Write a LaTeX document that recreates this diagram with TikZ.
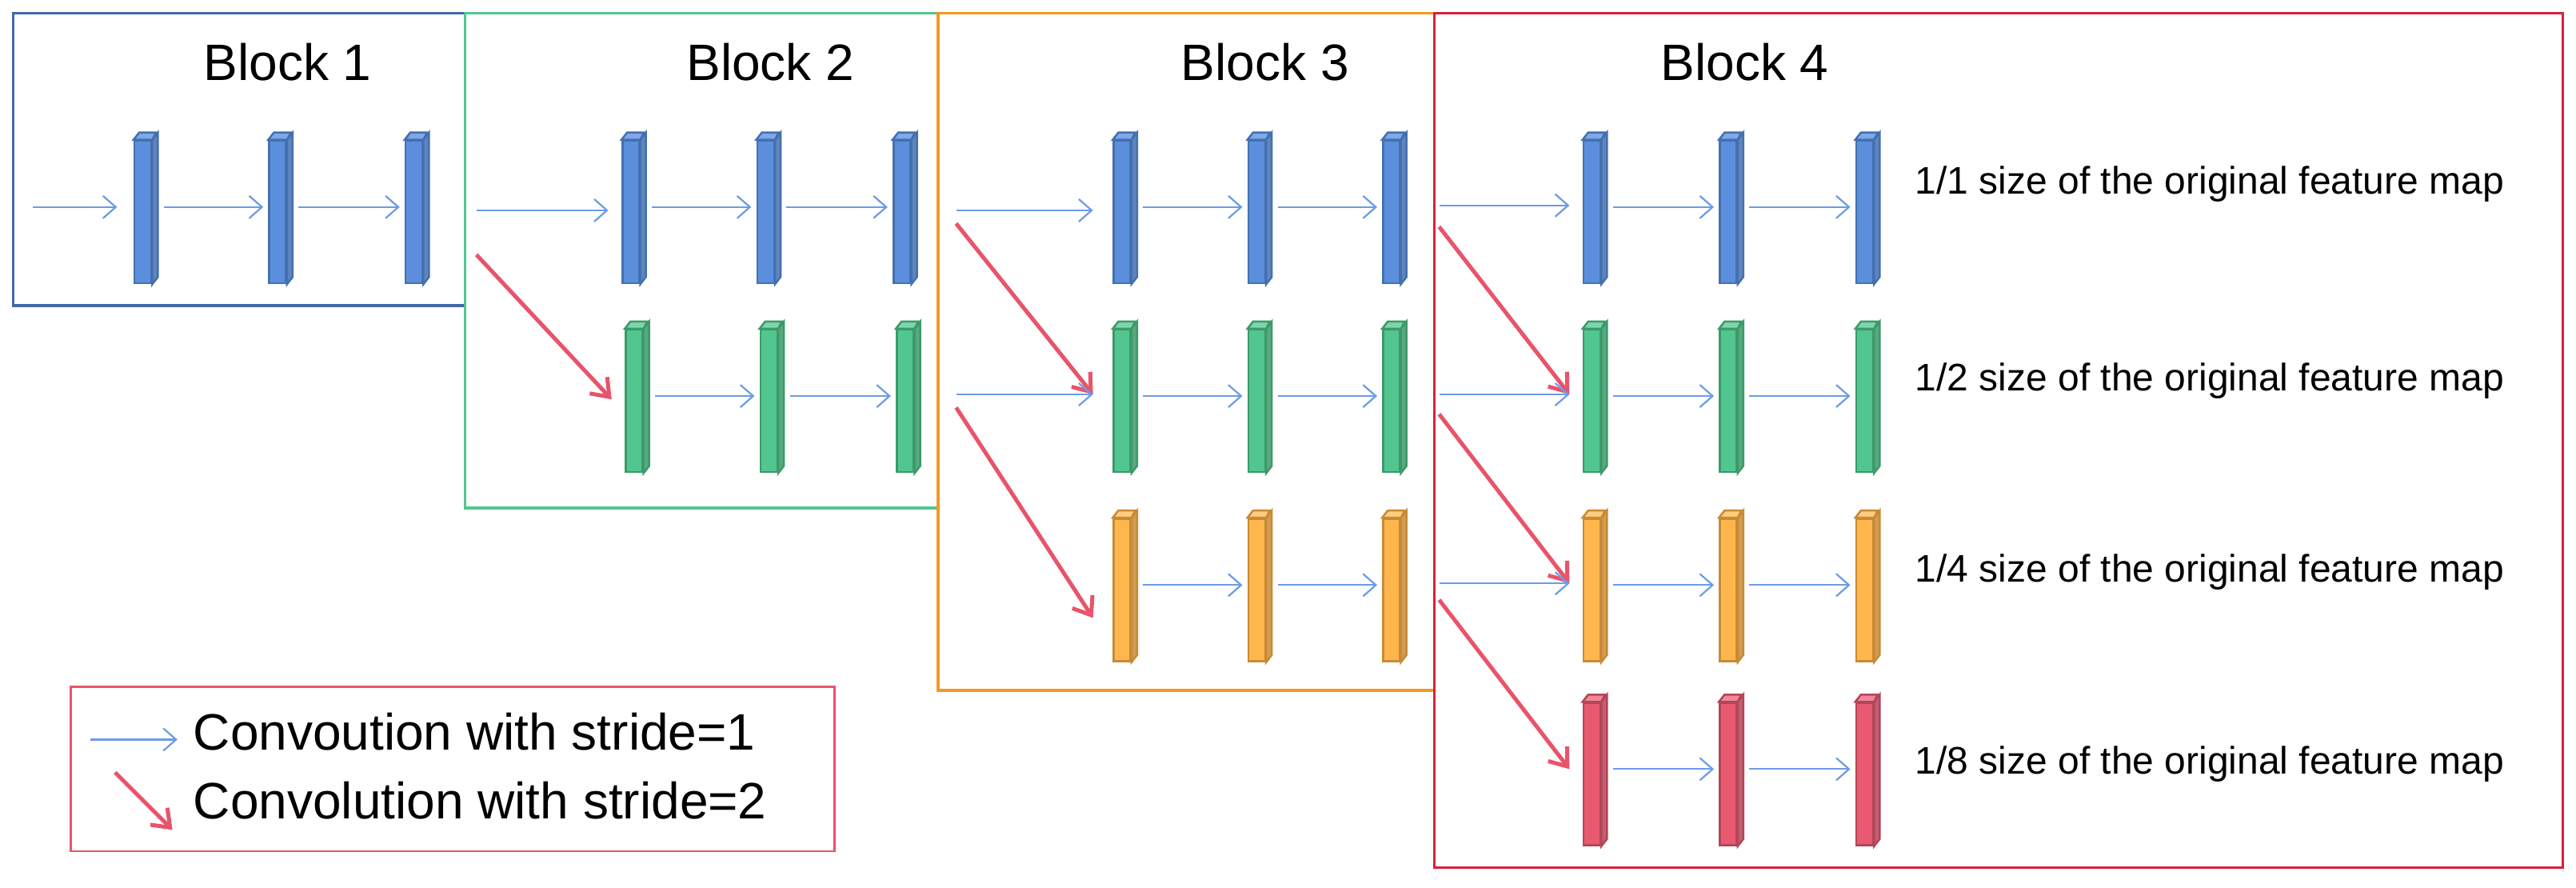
\documentclass[tikz,border=0pt]{standalone}
\usepackage{fontspec}
\setmainfont{Liberation Sans}
\usetikzlibrary{arrows.meta,calc}
\definecolor{bF}{HTML}{5B8FDE}\definecolor{bE}{HTML}{4470B0}\definecolor{bT}{HTML}{7FA8E8}
\definecolor{gF}{HTML}{52C68F}\definecolor{gE}{HTML}{3C9A6A}\definecolor{gT}{HTML}{7DD6AB}
\definecolor{oF}{HTML}{FFB74D}\definecolor{oE}{HTML}{C98A35}\definecolor{oT}{HTML}{FFCD80}
\definecolor{rF}{HTML}{E95A70}\definecolor{rE}{HTML}{B44558}\definecolor{rT}{HTML}{F0889A}
\definecolor{arB}{HTML}{6C9BE8}\definecolor{arR}{HTML}{E8546A}
\definecolor{box1}{HTML}{4268A8}\definecolor{box2}{HTML}{52C68F}\definecolor{box3}{HTML}{F39A1E}\definecolor{box4}{HTML}{DC1E3C}
\newcommand{\fbar}[4]{%
 \node[draw=#4E,fill=#4F,line width=2.5pt,minimum width=21pt,minimum height=178pt,inner sep=0pt] (#1) at (#2,#3) {};
 \fill[#4T,draw=#4E,line width=2.5pt] (#1.north west) -- ++(7pt,9pt) -- ++(21pt,0) -- (#1.north east) -- cycle;
 \fill[#4E!85,draw=#4E,line width=2.5pt] (#1.north east) -- ++(7pt,9pt) -- ($(#1.south east)+(7pt,9pt)$) -- (#1.south east) -- cycle;
}
\tikzset{
 ba/.style={draw=arB,line width=2.2pt,-{Straight Barb[length=16pt,width=28pt,line width=2.2pt]}},
 ra/.style={draw=arR,line width=5pt,-{Straight Barb[length=20pt,width=30pt,line width=5pt]}},
 blk/.style={line width=3.5pt},
 ttl/.style={font=\fontsize{64}{72}\selectfont},
 lbl/.style={font=\fontsize{48}{56}\selectfont,anchor=west},
 leg/.style={font=\fontsize{64}{72}\selectfont,anchor=west}
}
\begin{document}
\begin{tikzpicture}[x=2.054pt,y=-2.054pt]
\useasboundingbox (0,0) rectangle (1568,540);
\fill[white] (0,0) rectangle (1568,540);
% boxes
\draw[blk,box1] (8,8) rectangle (283,186);
\draw[blk,box2] (283,8) rectangle (571,309);
\draw[blk,box3] (571,8) rectangle (873,420);
\draw[blk,box4] (873,8) rectangle (1560,528);
\node[ttl] (t1) at (175,38) {Block 1};
\node[ttl] (t2) at (469,38) {Block 2};
\node[ttl] (t3) at (770,38) {Block 3};
\node[ttl] (t4) at (1062,38) {Block 4};
% bars
\def\ya{129}\def\yb{244}\def\yc{359}\def\yd{471}
\foreach \n/\x in {11/87,12/169,13/252}{\fbar{b\n}{\x}{\ya}{b}}
\foreach \n/\x in {21/384,22/466,23/549}{\fbar{b\n}{\x}{\ya}{b}}
\foreach \n/\x in {24/386,25/468,26/551}{\fbar{b\n}{\x}{\yb}{g}}
\foreach \n/\x in {31/683,32/765,33/847}{\fbar{b\n}{\x}{\ya}{b}}
\foreach \n/\x in {34/683,35/765,36/847}{\fbar{b\n}{\x}{\yb}{g}}
\foreach \n/\x in {37/683,38/765,39/847}{\fbar{b\n}{\x}{\yc}{o}}
\foreach \n/\x in {41/969,42/1052,43/1135}{\fbar{b\n}{\x}{\ya}{b}}
\foreach \n/\x in {44/969,45/1052,46/1135}{\fbar{b\n}{\x}{\yb}{g}}
\foreach \n/\x in {47/969,48/1052,49/1135}{\fbar{b\n}{\x}{\yc}{o}}
\foreach \n/\x in {50/969,51/1052,52/1135}{\fbar{b\n}{\x}{\yd}{r}}
% horizontal arrows between bars
\foreach \a/\b in {11/12,12/13,21/22,22/23,24/25,25/26,31/32,32/33,34/35,35/36,37/38,38/39,41/42,42/43,44/45,45/46,47/48,48/49,50/51,51/52}
 {\draw[ba] ($(b\a.east)+(7,-3)$) -- ($(b\b.west)+(-3,-3)$);}
% inputs
\coordinate (i1) at (20,126);
\draw[ba] (i1) -- ($(b11.west)+(-10,-3)$);
\coordinate (i2) at (290,128); \coordinate (i2r) at (290,155);
\draw[ba] (i2) -- ($(b21.west)+(-8,-1)$);
\draw[ra] (i2r) -- ($(b24.west)+(-8,-1)$);
\coordinate (i3a) at (582,128); \coordinate (i3ar) at (582,136);
\coordinate (i3b) at (582,240); \coordinate (i3br) at (582,248);
\draw[ba] (i3a) -- ($(b31.west)+(-12,-1)$);
\draw[ra] (i3ar) -- ($(b34.west)+(-12,-4)$);
\draw[ba] (i3b) -- ($(b34.west)+(-12,-4)$);
\draw[ra] (i3br) -- ($(b37.west)+(-12,17)$);
\coordinate (i4a) at (876,125); \coordinate (i4ar) at (876,138);
\coordinate (i4b) at (876,240); \coordinate (i4br) at (876,252);
\coordinate (i4c) at (876,355); \coordinate (i4cr) at (876,365);
\draw[ba] (i4a) -- ($(b41.west)+(-8,-4)$);
\draw[ra] (i4ar) -- ($(b44.west)+(-8,-4)$);
\draw[ba] (i4b) -- ($(b44.west)+(-8,-4)$);
\draw[ra] (i4br) -- ($(b47.west)+(-8,-4)$);
\draw[ba] (i4c) -- ($(b47.west)+(-8,-4)$);
\draw[ra] (i4cr) -- ($(b50.west)+(-8,-3)$);
% labels
\node[lbl] (l1) at (1164,112) {1/1 size of the original feature map};
\node[lbl] (l2) at (1164,232) {1/2 size of the original feature map};
\node[lbl] (l3) at (1164,348) {1/4 size of the original feature map};
\node[lbl] (l4) at (1164,465) {1/8 size of the original feature map};
% legend
\draw[line width=2.5pt,arR] (43,418) rectangle (508,518);
\coordinate (la) at (55,450); \coordinate (lb) at (108,450);
\coordinate (lc) at (70,470); \coordinate (ld) at (105,505);
\draw[ba] (la) -- (lb);
\draw[ra] (lc) -- (ld);
\node[leg] (g1) at (116,445) {Convoution with stride=1};
\node[leg] (g2) at (116,487) {Convolution with stride=2};
\end{tikzpicture}
\end{document}
